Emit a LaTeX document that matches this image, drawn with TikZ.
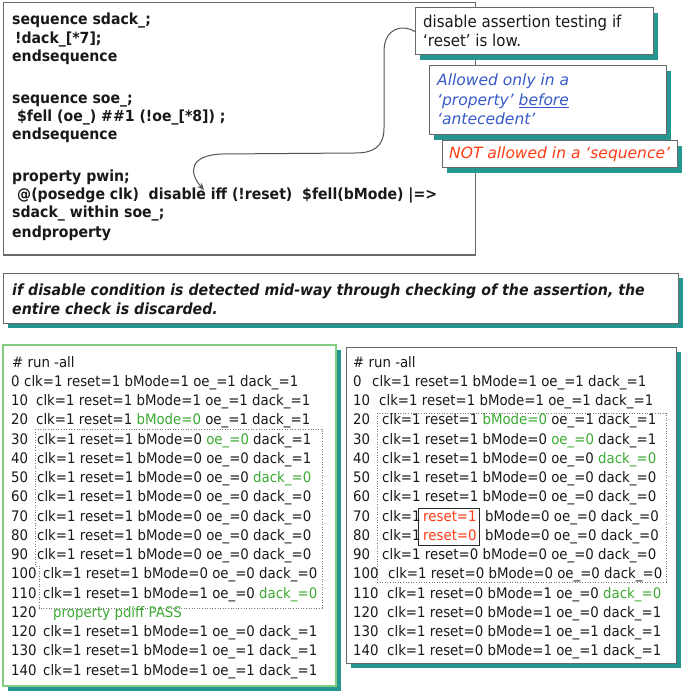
\documentclass[tikz,border=0pt]{standalone}
\usepackage{fontspec}
\setmainfont{DejaVu Sans}[FakeStretch=0.92]
\newfontfamily\wideit{DejaVu Sans}
\usetikzlibrary{arrows.meta,shadows}
\definecolor{shad}{RGB}{38,150,145}
\definecolor{bord}{RGB}{105,105,105}
\definecolor{lgreen}{RGB}{130,205,130}
\definecolor{okg}{RGB}{60,170,50}
\definecolor{redt}{RGB}{255,60,20}
\definecolor{bluet}{RGB}{55,90,200}
\definecolor{txt}{RGB}{25,25,25}
\definecolor{dotc}{RGB}{120,120,120}
\newcommand\rrow[6]{\node[run] (#1n) at (#3,#2) {#4}; \node[run] (#1t) at (#5,#2) {#6};}
\begin{document}
\begin{tikzpicture}[x=1pt,y=-1pt,
  box/.style={draw=bord,line width=1pt,fill=white,inner sep=0pt,outer sep=0pt,anchor=north west},
  sbox/.style={box,drop shadow={shadow xshift=5pt,shadow yshift=-5pt,fill=shad,opacity=1}},
  code/.style={inner sep=0pt,anchor=base west,font=\fontsize{15.3}{18}\selectfont\bfseries,text=txt},
  run/.style={inner sep=0pt,anchor=base west,font=\fontsize{14.5}{18}\selectfont,text=txt},
  note/.style={inner sep=0pt,anchor=base west,font=\fontsize{16.3}{18}\selectfont,text=txt},
  inote/.style={inner sep=0pt,anchor=base west,font=\wideit\fontsize{15.5}{18}\selectfont\itshape},
  ibold/.style={inner sep=0pt,anchor=base west,font=\fontsize{15.4}{18}\selectfont\bfseries\itshape,text=txt},
  dotbox/.style={draw=dotc,line width=0.9pt,dash pattern=on 1pt off 1.6pt},
  arr/.style={draw={rgb,255:red,85;green,85;blue,85},line width=1pt,-{Stealth[length=7pt,width=6pt]}}
]
\useasboundingbox (0,0) rectangle (685,692);
\fill[white] (0,0) rectangle (685,692);

% ---------- code box ----------
\node[box,minimum width=472pt,minimum height=252pt] (codebox) at (3,3) {};
\node[code] (k1) at (12,25) {sequence sdack\_;};
\node[code] (k2) at (15,44) {!dack\_[*7];};
\node[code] (k3) at (12,62) {endsequence};
\node[code] (k4) at (12,104) {sequence soe\_;};
\node[code] (k5) at (17,122) {\$fell (oe\_) \#\#1 (!oe\_[*8]) ;};
\node[code] (k6) at (12,140) {endsequence};
\node[code] (k7) at (12,182) {property pwin;};
\node[code] (k8) at (17,200) {@(posedge clk)\ \ disable iff (!reset)\ \ \$fell(bMode) |=>};
\node[code] (k9) at (12,218) {sdack\_ within soe\_;};
\node[code] (k10) at (12,237) {endproperty};

% ---------- callouts ----------
\node[sbox,minimum width=238pt,minimum height=47pt] (c1) at (415,8) {};
\node[note] (c1a) at (423,28) {disable assertion testing if};
\node[note] (c1b) at (423,47) {‘reset’ is low.};
\node[sbox,minimum width=237pt,minimum height=69pt] (c2) at (429,66) {};
\node[inote,text=bluet] (c2a) at (437,86) {Allowed only in a};
\node[inote,text=bluet] (c2b) at (437,106) {‘property’ \underline{before}};
\node[inote,text=bluet] (c2c) at (437,125) {‘antecedent’};
\node[sbox,minimum width=235pt,minimum height=27pt] (c3) at (442,141) {};
\node[inote,text=redt] (c3a) at (449,159) {NOT allowed in a ‘sequence’};

\coordinate (tip) at (204,190);
\draw[arr] (c1.west) .. controls (402,24) and (385,28) .. (384,50) -- (384,128)
  .. controls (384,148) and (372,153) .. (355,153) -- (222,154)
  .. controls (190,155) and (188,172) .. (tip);

% ---------- italic note ----------
\node[sbox,minimum width=675pt,minimum height=50pt] (ibox) at (3,273) {};
\node[ibold] (i1) at (12,295) {if disable condition is detected mid-way through checking of the assertion, the};
\node[ibold] (i2) at (12,314) {entire check is discarded.};

% ---------- left run ----------
\node[box,draw=lgreen,line width=1.3pt,minimum width=333pt,minimum height=341pt,
  drop shadow={shadow xshift=5pt,shadow yshift=-5pt,fill=shad,opacity=1}] (lbox) at (3,345) {};
\draw[dotbox] (35,429) -- (322,429) -- (322,608) -- (39,608) -- (39,566) -- (35,566) -- cycle;
\node[run] (lh) at (12,367) {\# run -all};
\rrow{l0}{386.25}{11}{0}{24}{clk=1 reset=1 bMode=1 oe\_=1 dack\_=1}
\rrow{l1}{405.5}{11}{10}{36}{clk=1 reset=1 bMode=1 oe\_=1 dack\_=1}
\rrow{l2}{424.75}{11}{20}{36}{clk=1 reset=1 {\color{okg}bMode=0} oe\_=1 dack\_=1}
\rrow{l3}{444}{11}{30}{37}{clk=1 reset=1 bMode=0 {\color{okg}oe\_=0} dack\_=1}
\rrow{l4}{463.25}{11}{40}{37}{clk=1 reset=1 bMode=0 oe\_=0 dack\_=1}
\rrow{l5}{482.5}{11}{50}{37}{clk=1 reset=1 bMode=0 oe\_=0 {\color{okg}dack\_=0}}
\rrow{l6}{501.75}{11}{60}{37}{clk=1 reset=1 bMode=0 oe\_=0 dack\_=0}
\rrow{l7}{521}{11}{70}{37}{clk=1 reset=1 bMode=0 oe\_=0 dack\_=0}
\rrow{l8}{540.25}{11}{80}{37}{clk=1 reset=1 bMode=0 oe\_=0 dack\_=0}
\rrow{l9}{559.5}{11}{90}{37}{clk=1 reset=1 bMode=0 oe\_=0 dack\_=0}
\rrow{l10}{578.75}{11}{100}{43}{clk=1 reset=1 bMode=0 oe\_=0 dack\_=0}
\rrow{l11}{598}{11}{110}{43}{clk=1 reset=1 bMode=1 oe\_=0 {\color{okg}dack\_=0}}
\rrow{l12}{617.25}{11}{120}{53}{{\color{okg}property pdiff PASS}}
\rrow{l13}{636.5}{11}{120}{43}{clk=1 reset=1 bMode=1 oe\_=0 dack\_=1}
\rrow{l14}{655.75}{11}{130}{43}{clk=1 reset=1 bMode=1 oe\_=1 dack\_=1}
\rrow{l15}{675}{11}{140}{43}{clk=1 reset=1 bMode=1 oe\_=1 dack\_=1}

% ---------- right run ----------
\node[sbox,minimum width=330pt,minimum height=316pt] (rbox) at (346,347) {};
\draw[dotbox] (377,413) rectangle (666,582);
\node[draw={rgb,255:red,40;green,40;blue,40},line width=1.3pt,inner sep=0pt,anchor=north west,
  minimum width=61pt,minimum height=37pt] (rsel) at (418,508) {};
\node[run] (rh) at (353,367) {\# run -all};
\rrow{r0}{386.25}{353}{0}{372}{clk=1 reset=1 bMode=1 oe\_=1 dack\_=1}
\rrow{r1}{405.5}{353}{10}{379}{clk=1 reset=1 bMode=1 oe\_=1 dack\_=1}
\rrow{r2}{424.75}{353}{20}{382}{clk=1 reset=1 {\color{okg}bMode=0} oe\_=1 dack\_=1}
\rrow{r3}{444}{353}{30}{382}{clk=1 reset=1 bMode=0 {\color{okg}oe\_=0} dack\_=1}
\rrow{r4}{463.25}{353}{40}{382}{clk=1 reset=1 bMode=0 oe\_=0 {\color{okg}dack\_=0}}
\rrow{r5}{482.5}{353}{50}{382}{clk=1 reset=1 bMode=0 oe\_=0 dack\_=0}
\rrow{r6}{501.75}{353}{60}{382}{clk=1 reset=1 bMode=0 oe\_=0 dack\_=0}
\rrow{r7}{521}{353}{70}{382}{clk=1}
\node[run,text=redt] (r7r) at (423,521) {reset=1};
\node[run] (r7b) at (485,521) {bMode=0 oe\_=0 dack\_=0};
\rrow{r8}{540.25}{353}{80}{382}{clk=1}
\node[run,text=redt] (r8r) at (423,540.25) {reset=0};
\node[run] (r8b) at (485,540.25) {bMode=0 oe\_=0 dack\_=0};
\rrow{r9}{559.5}{353}{90}{382}{clk=1 reset=0 bMode=0 oe\_=0 dack\_=0}
\rrow{r10}{578.75}{353}{100}{388}{clk=1 reset=0 bMode=0 oe\_=0 dack\_=0}
\rrow{r11}{598}{353}{110}{387}{clk=1 reset=0 bMode=1 oe\_=0 {\color{okg}dack\_=0}}
\rrow{r12}{617.25}{353}{120}{387}{clk=1 reset=0 bMode=1 oe\_=0 dack\_=1}
\rrow{r13}{636.5}{353}{130}{387}{clk=1 reset=0 bMode=1 oe\_=1 dack\_=1}
\rrow{r14}{655.75}{353}{140}{387}{clk=1 reset=0 bMode=1 oe\_=1 dack\_=1}
\end{tikzpicture}
\end{document}
